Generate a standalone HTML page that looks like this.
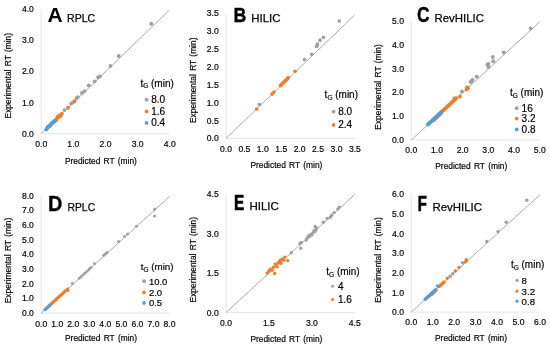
<!DOCTYPE html>
<html lang="en"><head><meta charset="utf-8"><title>Predicted vs experimental RT</title>
<style>html,body{margin:0;padding:0;background:#fff;}body{width:550px;height:348px;overflow:hidden}svg{display:block;filter:blur(0.45px)}</style>
</head><body>
<svg width="550" height="348" viewBox="0 0 550 348" font-family="'Liberation Sans', Arial, sans-serif" fill="#000" stroke="#000" stroke-width="0.18">
<rect width="550" height="348" fill="#fff" stroke="none"/>
<g id="panelA">
<path d="M41.20 9.00V133.80H169.80" fill="none" stroke="#e4e4e4" stroke-width="1"/>
<line x1="41.20" y1="133.80" x2="169.40" y2="10.00" stroke="#858585" stroke-width="0.7"/>
<g font-size="8.6" text-anchor="end">
<text x="33.90" y="136.85">0.0</text>
<text x="33.90" y="105.65">1.0</text>
<text x="33.90" y="74.45">2.0</text>
<text x="33.90" y="43.25">3.0</text>
<text x="33.90" y="12.05">4.0</text>
</g>
<g font-size="8.6" text-anchor="middle">
<text x="41.20" y="146.95">0.0</text>
<text x="73.35" y="146.95">1.0</text>
<text x="105.50" y="146.95">2.0</text>
<text x="137.65" y="146.95">3.0</text>
<text x="169.80" y="146.95">4.0</text>
</g>
<text x="100.90" y="164.10" font-size="8.4" text-anchor="middle" word-spacing="1">Predicted RT (min)</text>
<text transform="translate(11.10 75.70) rotate(-90)" font-size="8.4" text-anchor="middle" word-spacing="1">Experimental RT (min)</text>
<text transform="translate(47.60 21.50) scale(1.0 1)" font-size="21" font-weight="bold" fill="#000" stroke="#000" stroke-width="0" stroke-linejoin="miter">A</text>
<text x="67.00" y="21.50" font-size="11.8" fill="#000" stroke="#000" stroke-width="0.25" textLength="28.2" lengthAdjust="spacingAndGlyphs">RPLC</text>
<g stroke="none">
<circle cx="64.50" cy="110.10" r="1.95" fill="#a0a0a0"/>
<circle cx="71.10" cy="103.60" r="1.95" fill="#a0a0a0"/>
<circle cx="72.80" cy="102.40" r="1.95" fill="#a0a0a0"/>
<circle cx="76.60" cy="98.30" r="1.95" fill="#a0a0a0"/>
<circle cx="77.80" cy="97.10" r="1.95" fill="#a0a0a0"/>
<circle cx="82.00" cy="93.00" r="1.95" fill="#a0a0a0"/>
<circle cx="84.50" cy="91.10" r="1.95" fill="#a0a0a0"/>
<circle cx="88.70" cy="85.40" r="1.95" fill="#a0a0a0"/>
<circle cx="94.65" cy="81.35" r="1.95" fill="#a0a0a0"/>
<circle cx="98.10" cy="77.30" r="1.95" fill="#a0a0a0"/>
<circle cx="100.00" cy="76.40" r="1.95" fill="#a0a0a0"/>
<circle cx="110.50" cy="66.00" r="1.95" fill="#a0a0a0"/>
<circle cx="118.75" cy="56.00" r="1.95" fill="#a0a0a0"/>
<circle cx="151.25" cy="23.75" r="1.95" fill="#a0a0a0"/>
<circle cx="55.99" cy="120.38" r="1.95" fill="#ed7d31"/>
<circle cx="56.95" cy="118.51" r="1.95" fill="#ed7d31"/>
<circle cx="57.92" cy="116.64" r="1.95" fill="#ed7d31"/>
<circle cx="58.88" cy="117.11" r="1.95" fill="#ed7d31"/>
<circle cx="59.85" cy="115.24" r="1.95" fill="#ed7d31"/>
<circle cx="60.81" cy="115.70" r="1.95" fill="#ed7d31"/>
<circle cx="61.78" cy="113.83" r="1.95" fill="#ed7d31"/>
<circle cx="68.00" cy="107.80" r="1.95" fill="#ed7d31"/>
<circle cx="74.70" cy="101.10" r="1.95" fill="#ed7d31"/>
<circle cx="46.18" cy="129.59" r="1.95" fill="#5b9bd5"/>
<circle cx="46.96" cy="128.21" r="1.95" fill="#5b9bd5"/>
<circle cx="47.73" cy="126.84" r="1.95" fill="#5b9bd5"/>
<circle cx="48.51" cy="127.02" r="1.95" fill="#5b9bd5"/>
<circle cx="49.28" cy="125.65" r="1.95" fill="#5b9bd5"/>
<circle cx="50.06" cy="125.83" r="1.95" fill="#5b9bd5"/>
<circle cx="50.83" cy="124.45" r="1.95" fill="#5b9bd5"/>
<circle cx="51.60" cy="123.08" r="1.95" fill="#5b9bd5"/>
<circle cx="52.38" cy="123.26" r="1.95" fill="#5b9bd5"/>
<circle cx="53.15" cy="121.89" r="1.95" fill="#5b9bd5"/>
<circle cx="53.93" cy="122.07" r="1.95" fill="#5b9bd5"/>
<circle cx="54.70" cy="120.70" r="1.95" fill="#5b9bd5"/>
</g>
<text x="140.40" y="86.70" font-size="10.0">t<tspan font-size="6.5" dy="1.6">G</tspan><tspan dy="-1.6"> (min)</tspan></text>
<circle cx="146.55" cy="99.70" r="1.85" fill="#a0a0a0" stroke="none"/>
<text x="151.20" y="103.10" font-size="10.0">8.0</text>
<circle cx="146.55" cy="111.45" r="1.85" fill="#ed7d31" stroke="none"/>
<text x="151.20" y="114.85" font-size="10.0">1.6</text>
<circle cx="146.55" cy="122.95" r="1.85" fill="#5b9bd5" stroke="none"/>
<text x="151.20" y="126.35" font-size="10.0">0.4</text>
</g>
<g id="panelB">
<path d="M226.00 13.15V138.40H354.90" fill="none" stroke="#e4e4e4" stroke-width="1"/>
<line x1="226.00" y1="138.40" x2="354.60" y2="15.10" stroke="#858585" stroke-width="0.7"/>
<g font-size="8.6" text-anchor="end">
<text x="218.70" y="141.45">0.0</text>
<text x="218.70" y="123.56">0.5</text>
<text x="218.70" y="105.66">1.0</text>
<text x="218.70" y="87.77">1.5</text>
<text x="218.70" y="69.88">2.0</text>
<text x="218.70" y="51.99">2.5</text>
<text x="218.70" y="34.09">3.0</text>
<text x="218.70" y="16.20">3.5</text>
</g>
<g font-size="8.6" text-anchor="middle">
<text x="226.00" y="151.55">0.0</text>
<text x="244.41" y="151.55">0.5</text>
<text x="262.83" y="151.55">1.0</text>
<text x="281.24" y="151.55">1.5</text>
<text x="299.66" y="151.55">2.0</text>
<text x="318.07" y="151.55">2.5</text>
<text x="336.49" y="151.55">3.0</text>
<text x="354.90" y="151.55">3.5</text>
</g>
<text x="286.40" y="168.00" font-size="8.4" text-anchor="middle" word-spacing="1">Predicted RT (min)</text>
<text transform="translate(195.90 80.30) rotate(-90)" font-size="8.4" text-anchor="middle" word-spacing="1">Experimental RT (min)</text>
<text transform="translate(233.40 21.60) scale(0.84 1)" font-size="21.1" font-weight="bold" fill="#000" stroke="#000" stroke-width="0.4" stroke-linejoin="miter">B</text>
<text x="251.20" y="21.60" font-size="11.8" fill="#000" stroke="#000" stroke-width="0.25" textLength="29.3" lengthAdjust="spacingAndGlyphs">HILIC</text>
<g stroke="none">
<circle cx="259.50" cy="104.50" r="1.85" fill="#a0a0a0"/>
<circle cx="304.50" cy="59.50" r="1.85" fill="#a0a0a0"/>
<circle cx="311.75" cy="54.25" r="1.85" fill="#a0a0a0"/>
<circle cx="316.50" cy="46.50" r="1.85" fill="#a0a0a0"/>
<circle cx="317.20" cy="45.00" r="1.85" fill="#a0a0a0"/>
<circle cx="317.60" cy="44.00" r="1.85" fill="#a0a0a0"/>
<circle cx="320.00" cy="40.20" r="1.85" fill="#a0a0a0"/>
<circle cx="323.40" cy="37.30" r="1.85" fill="#a0a0a0"/>
<circle cx="339.25" cy="21.00" r="1.85" fill="#a0a0a0"/>
<circle cx="287.60" cy="78.60" r="1.85" fill="#a0a0a0"/>
<circle cx="256.75" cy="109.00" r="1.85" fill="#ed7d31"/>
<circle cx="272.20" cy="93.90" r="1.85" fill="#ed7d31"/>
<circle cx="274.00" cy="92.10" r="1.85" fill="#ed7d31"/>
<circle cx="295.00" cy="71.25" r="1.85" fill="#ed7d31"/>
<circle cx="280.51" cy="85.72" r="1.85" fill="#ed7d31"/>
<circle cx="281.61" cy="84.36" r="1.85" fill="#ed7d31"/>
<circle cx="282.72" cy="83.00" r="1.85" fill="#ed7d31"/>
<circle cx="283.82" cy="82.36" r="1.85" fill="#ed7d31"/>
<circle cx="284.93" cy="81.00" r="1.85" fill="#ed7d31"/>
<circle cx="286.03" cy="80.36" r="1.85" fill="#ed7d31"/>
<circle cx="287.14" cy="79.00" r="1.85" fill="#ed7d31"/>
<circle cx="288.24" cy="77.64" r="1.85" fill="#ed7d31"/>
</g>
<text x="324.60" y="98.00" font-size="10.0">t<tspan font-size="6.5" dy="1.6">G</tspan><tspan dy="-1.6"> (min)</tspan></text>
<circle cx="333.55" cy="111.70" r="1.85" fill="#a0a0a0" stroke="none"/>
<text x="338.20" y="115.10" font-size="10.0">8.0</text>
<circle cx="333.55" cy="124.95" r="1.85" fill="#ed7d31" stroke="none"/>
<text x="338.20" y="128.35" font-size="10.0">2.4</text>
</g>
<g id="panelC">
<path d="M411.25 20.90V140.00H539.75" fill="none" stroke="#e4e4e4" stroke-width="1"/>
<line x1="411.25" y1="140.00" x2="539.80" y2="21.80" stroke="#858585" stroke-width="0.7"/>
<g font-size="8.6" text-anchor="end">
<text x="403.95" y="143.05">0.0</text>
<text x="403.95" y="119.23">1.0</text>
<text x="403.95" y="95.41">2.0</text>
<text x="403.95" y="71.59">3.0</text>
<text x="403.95" y="47.77">4.0</text>
<text x="403.95" y="23.95">5.0</text>
</g>
<g font-size="8.6" text-anchor="middle">
<text x="411.25" y="153.10">0.0</text>
<text x="436.95" y="153.10">1.0</text>
<text x="462.65" y="153.10">2.0</text>
<text x="488.35" y="153.10">3.0</text>
<text x="514.05" y="153.10">4.0</text>
<text x="539.75" y="153.10">5.0</text>
</g>
<text x="471.25" y="168.75" font-size="8.4" text-anchor="middle" word-spacing="1">Predicted RT (min)</text>
<text transform="translate(381.40 86.95) rotate(-90)" font-size="8.4" text-anchor="middle" word-spacing="1">Experimental RT (min)</text>
<text transform="translate(417.10 21.90) scale(0.8 1)" font-size="21.8" font-weight="bold" fill="#000" stroke="#000" stroke-width="0.4" stroke-linejoin="miter">C</text>
<text x="434.50" y="21.90" font-size="11.8" fill="#000" stroke="#000" stroke-width="0.25" textLength="49.5" lengthAdjust="spacingAndGlyphs">RevHILIC</text>
<g stroke="none">
<circle cx="530.60" cy="28.40" r="1.95" fill="#a0a0a0"/>
<circle cx="503.75" cy="52.50" r="1.95" fill="#a0a0a0"/>
<circle cx="492.75" cy="57.00" r="1.95" fill="#a0a0a0"/>
<circle cx="493.25" cy="61.25" r="1.95" fill="#a0a0a0"/>
<circle cx="487.50" cy="64.50" r="1.95" fill="#a0a0a0"/>
<circle cx="488.50" cy="64.00" r="1.95" fill="#a0a0a0"/>
<circle cx="488.25" cy="67.00" r="1.95" fill="#a0a0a0"/>
<circle cx="476.75" cy="76.75" r="1.95" fill="#a0a0a0"/>
<circle cx="472.50" cy="80.00" r="1.95" fill="#a0a0a0"/>
<circle cx="471.50" cy="81.00" r="1.95" fill="#a0a0a0"/>
<circle cx="470.50" cy="82.00" r="1.95" fill="#a0a0a0"/>
<circle cx="454.25" cy="98.25" r="1.95" fill="#a0a0a0"/>
<circle cx="462.00" cy="91.50" r="1.95" fill="#a0a0a0"/>
<circle cx="433.48" cy="120.23" r="1.95" fill="#ed7d31"/>
<circle cx="434.58" cy="119.21" r="1.95" fill="#ed7d31"/>
<circle cx="435.68" cy="118.19" r="1.95" fill="#ed7d31"/>
<circle cx="436.78" cy="117.17" r="1.95" fill="#ed7d31"/>
<circle cx="437.89" cy="116.15" r="1.95" fill="#ed7d31"/>
<circle cx="438.99" cy="115.13" r="1.95" fill="#ed7d31"/>
<circle cx="440.09" cy="114.10" r="1.95" fill="#ed7d31"/>
<circle cx="441.19" cy="113.08" r="1.95" fill="#ed7d31"/>
<circle cx="441.32" cy="112.13" r="1.95" fill="#ed7d31"/>
<circle cx="442.47" cy="111.07" r="1.95" fill="#ed7d31"/>
<circle cx="443.61" cy="110.01" r="1.95" fill="#ed7d31"/>
<circle cx="444.76" cy="108.94" r="1.95" fill="#ed7d31"/>
<circle cx="445.91" cy="107.88" r="1.95" fill="#ed7d31"/>
<circle cx="447.05" cy="106.82" r="1.95" fill="#ed7d31"/>
<circle cx="448.20" cy="105.75" r="1.95" fill="#ed7d31"/>
<circle cx="449.35" cy="104.69" r="1.95" fill="#ed7d31"/>
<circle cx="450.49" cy="103.63" r="1.95" fill="#ed7d31"/>
<circle cx="451.64" cy="102.57" r="1.95" fill="#ed7d31"/>
<circle cx="452.79" cy="101.50" r="1.95" fill="#ed7d31"/>
<circle cx="453.93" cy="100.44" r="1.95" fill="#ed7d31"/>
<circle cx="455.08" cy="99.38" r="1.95" fill="#ed7d31"/>
<circle cx="456.23" cy="98.31" r="1.95" fill="#ed7d31"/>
<circle cx="460.00" cy="96.50" r="1.95" fill="#ed7d31"/>
<circle cx="466.50" cy="89.50" r="1.95" fill="#ed7d31"/>
<circle cx="468.00" cy="88.25" r="1.95" fill="#ed7d31"/>
<circle cx="467.00" cy="87.50" r="1.95" fill="#ed7d31"/>
<circle cx="427.95" cy="124.52" r="1.95" fill="#5b9bd5"/>
<circle cx="428.74" cy="123.79" r="1.95" fill="#5b9bd5"/>
<circle cx="429.53" cy="123.06" r="1.95" fill="#5b9bd5"/>
<circle cx="430.31" cy="122.33" r="1.95" fill="#5b9bd5"/>
<circle cx="431.10" cy="121.60" r="1.95" fill="#5b9bd5"/>
<circle cx="431.89" cy="120.87" r="1.95" fill="#5b9bd5"/>
<circle cx="432.67" cy="120.15" r="1.95" fill="#5b9bd5"/>
<circle cx="433.46" cy="119.42" r="1.95" fill="#5b9bd5"/>
<circle cx="434.24" cy="118.69" r="1.95" fill="#5b9bd5"/>
<circle cx="435.03" cy="117.96" r="1.95" fill="#5b9bd5"/>
<circle cx="435.82" cy="117.23" r="1.95" fill="#5b9bd5"/>
<circle cx="436.60" cy="116.50" r="1.95" fill="#5b9bd5"/>
<circle cx="437.39" cy="115.77" r="1.95" fill="#5b9bd5"/>
<circle cx="438.17" cy="115.05" r="1.95" fill="#5b9bd5"/>
<circle cx="438.96" cy="114.32" r="1.95" fill="#5b9bd5"/>
<circle cx="439.75" cy="113.59" r="1.95" fill="#5b9bd5"/>
<circle cx="440.53" cy="112.86" r="1.95" fill="#5b9bd5"/>
<circle cx="441.32" cy="112.13" r="1.95" fill="#5b9bd5"/>
</g>
<text x="510.00" y="96.00" font-size="10.0">t<tspan font-size="6.5" dy="1.6">G</tspan><tspan dy="-1.6"> (min)</tspan></text>
<circle cx="516.70" cy="108.20" r="1.85" fill="#a0a0a0" stroke="none"/>
<text x="521.60" y="111.60" font-size="10.0">16</text>
<circle cx="516.70" cy="118.60" r="1.85" fill="#ed7d31" stroke="none"/>
<text x="521.60" y="122.00" font-size="10.0">3.2</text>
<circle cx="516.70" cy="129.40" r="1.85" fill="#5b9bd5" stroke="none"/>
<text x="521.60" y="132.80" font-size="10.0">0.8</text>
</g>
<g id="panelD">
<path d="M41.20 195.70V313.10H169.50" fill="none" stroke="#e4e4e4" stroke-width="1"/>
<line x1="41.20" y1="313.10" x2="169.70" y2="196.30" stroke="#858585" stroke-width="0.7"/>
<g font-size="8.6" text-anchor="end">
<text x="33.90" y="316.15">0.0</text>
<text x="33.90" y="301.48">1.0</text>
<text x="33.90" y="286.80">2.0</text>
<text x="33.90" y="272.12">3.0</text>
<text x="33.90" y="257.45">4.0</text>
<text x="33.90" y="242.78">5.0</text>
<text x="33.90" y="228.10">6.0</text>
<text x="33.90" y="213.43">7.0</text>
<text x="33.90" y="198.75">8.0</text>
</g>
<g font-size="8.6" text-anchor="middle">
<text x="41.20" y="326.75">0.0</text>
<text x="57.24" y="326.75">1.0</text>
<text x="73.28" y="326.75">2.0</text>
<text x="89.31" y="326.75">3.0</text>
<text x="105.35" y="326.75">4.0</text>
<text x="121.39" y="326.75">5.0</text>
<text x="137.43" y="326.75">6.0</text>
<text x="153.46" y="326.75">7.0</text>
<text x="169.50" y="326.75">8.0</text>
</g>
<text x="101.00" y="341.30" font-size="8.4" text-anchor="middle" word-spacing="1">Predicted RT (min)</text>
<text transform="translate(11.00 260.50) rotate(-90)" font-size="8.4" text-anchor="middle" word-spacing="1">Experimental RT (min)</text>
<text transform="translate(48.10 211.10) scale(0.935 1)" font-size="21.3" font-weight="bold" fill="#000" stroke="#000" stroke-width="0.3" stroke-linejoin="miter">D</text>
<text x="67.50" y="211.10" font-size="11.8" fill="#000" stroke="#000" stroke-width="0.25" textLength="27.6" lengthAdjust="spacingAndGlyphs">RPLC</text>
<g stroke="none">
<circle cx="154.60" cy="209.40" r="1.55" fill="#a0a0a0"/>
<circle cx="154.60" cy="216.00" r="1.55" fill="#a0a0a0"/>
<circle cx="136.50" cy="226.25" r="1.55" fill="#a0a0a0"/>
<circle cx="127.50" cy="234.00" r="1.55" fill="#a0a0a0"/>
<circle cx="124.50" cy="236.50" r="1.55" fill="#a0a0a0"/>
<circle cx="118.75" cy="241.50" r="1.55" fill="#a0a0a0"/>
<circle cx="107.00" cy="252.50" r="1.55" fill="#a0a0a0"/>
<circle cx="105.50" cy="253.80" r="1.55" fill="#a0a0a0"/>
<circle cx="103.75" cy="255.25" r="1.55" fill="#a0a0a0"/>
<circle cx="94.50" cy="263.50" r="1.55" fill="#a0a0a0"/>
<circle cx="72.50" cy="283.50" r="1.55" fill="#a0a0a0"/>
<circle cx="79.21" cy="278.32" r="1.55" fill="#a0a0a0"/>
<circle cx="81.16" cy="276.53" r="1.55" fill="#a0a0a0"/>
<circle cx="83.11" cy="274.75" r="1.55" fill="#a0a0a0"/>
<circle cx="85.06" cy="272.96" r="1.55" fill="#a0a0a0"/>
<circle cx="87.01" cy="271.18" r="1.55" fill="#a0a0a0"/>
<circle cx="88.97" cy="269.39" r="1.55" fill="#a0a0a0"/>
<circle cx="90.92" cy="267.61" r="1.55" fill="#a0a0a0"/>
<circle cx="50.18" cy="304.88" r="1.55" fill="#ed7d31"/>
<circle cx="50.78" cy="304.33" r="1.55" fill="#ed7d31"/>
<circle cx="51.39" cy="303.78" r="1.55" fill="#ed7d31"/>
<circle cx="51.99" cy="303.23" r="1.55" fill="#ed7d31"/>
<circle cx="52.59" cy="302.67" r="1.55" fill="#ed7d31"/>
<circle cx="53.20" cy="302.12" r="1.55" fill="#ed7d31"/>
<circle cx="53.80" cy="301.57" r="1.55" fill="#ed7d31"/>
<circle cx="54.40" cy="301.02" r="1.55" fill="#ed7d31"/>
<circle cx="55.01" cy="300.47" r="1.55" fill="#ed7d31"/>
<circle cx="55.61" cy="299.92" r="1.55" fill="#ed7d31"/>
<circle cx="56.21" cy="299.36" r="1.55" fill="#ed7d31"/>
<circle cx="56.81" cy="298.81" r="1.55" fill="#ed7d31"/>
<circle cx="57.42" cy="298.26" r="1.55" fill="#ed7d31"/>
<circle cx="58.02" cy="297.71" r="1.55" fill="#ed7d31"/>
<circle cx="58.62" cy="297.16" r="1.55" fill="#ed7d31"/>
<circle cx="59.23" cy="296.61" r="1.55" fill="#ed7d31"/>
<circle cx="59.83" cy="296.05" r="1.55" fill="#ed7d31"/>
<circle cx="60.43" cy="295.50" r="1.55" fill="#ed7d31"/>
<circle cx="61.04" cy="294.95" r="1.55" fill="#ed7d31"/>
<circle cx="61.64" cy="294.40" r="1.55" fill="#ed7d31"/>
<circle cx="62.24" cy="293.85" r="1.55" fill="#ed7d31"/>
<circle cx="62.84" cy="293.29" r="1.55" fill="#ed7d31"/>
<circle cx="63.45" cy="292.74" r="1.55" fill="#ed7d31"/>
<circle cx="64.05" cy="292.19" r="1.55" fill="#ed7d31"/>
<circle cx="64.65" cy="291.64" r="1.55" fill="#ed7d31"/>
<circle cx="65.26" cy="291.09" r="1.55" fill="#ed7d31"/>
<circle cx="67.70" cy="288.90" r="1.55" fill="#ed7d31"/>
<circle cx="68.00" cy="290.40" r="1.55" fill="#ed7d31"/>
<circle cx="66.60" cy="290.00" r="1.55" fill="#ed7d31"/>
<circle cx="44.89" cy="309.72" r="1.55" fill="#5b9bd5"/>
<circle cx="45.42" cy="309.24" r="1.55" fill="#5b9bd5"/>
<circle cx="45.96" cy="308.75" r="1.55" fill="#5b9bd5"/>
<circle cx="46.49" cy="308.26" r="1.55" fill="#5b9bd5"/>
<circle cx="47.03" cy="307.77" r="1.55" fill="#5b9bd5"/>
<circle cx="47.56" cy="307.28" r="1.55" fill="#5b9bd5"/>
<circle cx="48.10" cy="306.79" r="1.55" fill="#5b9bd5"/>
<circle cx="48.63" cy="306.30" r="1.55" fill="#5b9bd5"/>
<circle cx="49.17" cy="305.81" r="1.55" fill="#5b9bd5"/>
<circle cx="49.70" cy="305.32" r="1.55" fill="#5b9bd5"/>
</g>
<text x="140.75" y="270.00" font-size="9.8">t<tspan font-size="6.5" dy="1.6">G</tspan><tspan dy="-1.6"> (min)</tspan></text>
<circle cx="144.05" cy="281.20" r="1.85" fill="#a0a0a0" stroke="none"/>
<text x="148.90" y="284.60" font-size="9.5">10.0</text>
<circle cx="144.05" cy="292.45" r="1.85" fill="#ed7d31" stroke="none"/>
<text x="148.90" y="295.85" font-size="9.5">2.0</text>
<circle cx="144.05" cy="302.95" r="1.85" fill="#5b9bd5" stroke="none"/>
<text x="148.90" y="306.35" font-size="9.5">0.5</text>
</g>
<g id="panelE">
<path d="M226.00 194.40V312.50H354.80" fill="none" stroke="#e4e4e4" stroke-width="1"/>
<line x1="226.00" y1="312.50" x2="354.80" y2="194.40" stroke="#858585" stroke-width="0.7"/>
<g font-size="8.6" text-anchor="end">
<text x="218.70" y="315.55">0.0</text>
<text x="218.70" y="276.18">1.5</text>
<text x="218.70" y="236.82">3.0</text>
<text x="218.70" y="197.45">4.5</text>
</g>
<g font-size="8.6" text-anchor="middle">
<text x="226.00" y="325.95">0.0</text>
<text x="268.93" y="325.95">1.5</text>
<text x="311.87" y="325.95">3.0</text>
<text x="354.80" y="325.95">4.5</text>
</g>
<text x="286.40" y="341.50" font-size="8.4" text-anchor="middle" word-spacing="1">Predicted RT (min)</text>
<text transform="translate(196.25 259.70) rotate(-90)" font-size="8.4" text-anchor="middle" word-spacing="1">Experimental RT (min)</text>
<text transform="translate(233.90 210.40) scale(0.72 1)" font-size="21.3" font-weight="bold" fill="#000" stroke="#000" stroke-width="0.7" stroke-linejoin="miter">E</text>
<text x="249.50" y="210.40" font-size="11.8" fill="#000" stroke="#000" stroke-width="0.25" textLength="29.3" lengthAdjust="spacingAndGlyphs">HILIC</text>
<g stroke="none">
<circle cx="339.40" cy="207.10" r="1.7" fill="#a0a0a0"/>
<circle cx="337.90" cy="209.00" r="1.7" fill="#a0a0a0"/>
<circle cx="334.10" cy="212.60" r="1.7" fill="#a0a0a0"/>
<circle cx="331.60" cy="215.30" r="1.7" fill="#a0a0a0"/>
<circle cx="330.30" cy="217.20" r="1.7" fill="#a0a0a0"/>
<circle cx="327.20" cy="218.50" r="1.7" fill="#a0a0a0"/>
<circle cx="323.40" cy="222.30" r="1.7" fill="#a0a0a0"/>
<circle cx="315.20" cy="226.50" r="1.7" fill="#a0a0a0"/>
<circle cx="316.40" cy="228.00" r="1.7" fill="#a0a0a0"/>
<circle cx="301.25" cy="242.50" r="1.7" fill="#a0a0a0"/>
<circle cx="300.00" cy="243.75" r="1.7" fill="#a0a0a0"/>
<circle cx="300.75" cy="248.25" r="1.7" fill="#a0a0a0"/>
<circle cx="291.25" cy="252.75" r="1.7" fill="#a0a0a0"/>
<circle cx="306.14" cy="240.07" r="1.7" fill="#a0a0a0"/>
<circle cx="307.26" cy="237.99" r="1.7" fill="#a0a0a0"/>
<circle cx="308.37" cy="235.92" r="1.7" fill="#a0a0a0"/>
<circle cx="309.48" cy="236.48" r="1.7" fill="#a0a0a0"/>
<circle cx="310.59" cy="234.41" r="1.7" fill="#a0a0a0"/>
<circle cx="311.71" cy="234.96" r="1.7" fill="#a0a0a0"/>
<circle cx="312.82" cy="232.89" r="1.7" fill="#a0a0a0"/>
<circle cx="313.93" cy="230.82" r="1.7" fill="#a0a0a0"/>
<circle cx="315.05" cy="231.38" r="1.7" fill="#a0a0a0"/>
<circle cx="316.16" cy="229.31" r="1.7" fill="#a0a0a0"/>
<circle cx="270.20" cy="269.30" r="1.7" fill="#ed7d31"/>
<circle cx="275.30" cy="264.00" r="1.7" fill="#ed7d31"/>
<circle cx="280.30" cy="260.20" r="1.7" fill="#ed7d31"/>
<circle cx="284.80" cy="257.10" r="1.7" fill="#ed7d31"/>
<circle cx="267.10" cy="273.10" r="1.7" fill="#ed7d31"/>
<circle cx="272.10" cy="270.30" r="1.7" fill="#ed7d31"/>
<circle cx="277.20" cy="266.80" r="1.7" fill="#ed7d31"/>
<circle cx="281.00" cy="263.40" r="1.7" fill="#ed7d31"/>
<circle cx="283.90" cy="260.20" r="1.7" fill="#ed7d31"/>
<circle cx="273.40" cy="267.20" r="1.7" fill="#ed7d31"/>
<circle cx="278.40" cy="262.80" r="1.7" fill="#ed7d31"/>
<circle cx="282.20" cy="259.00" r="1.7" fill="#ed7d31"/>
<circle cx="274.65" cy="273.50" r="1.7" fill="#ed7d31"/>
<circle cx="287.70" cy="260.60" r="1.7" fill="#ed7d31"/>
<circle cx="268.80" cy="271.20" r="1.7" fill="#ed7d31"/>
<circle cx="276.30" cy="265.50" r="1.7" fill="#ed7d31"/>
<circle cx="279.50" cy="261.80" r="1.7" fill="#ed7d31"/>
</g>
<text x="326.30" y="275.00" font-size="10.0">t<tspan font-size="6.5" dy="1.6">G</tspan><tspan dy="-1.6"> (min)</tspan></text>
<circle cx="332.60" cy="286.20" r="1.55" fill="#a0a0a0" stroke="none"/>
<text x="338.00" y="289.60" font-size="10.0">4</text>
<circle cx="332.60" cy="299.45" r="1.55" fill="#ed7d31" stroke="none"/>
<text x="338.00" y="302.85" font-size="10.0">1.6</text>
</g>
<g id="panelF">
<path d="M411.25 194.30V312.10H540.00" fill="none" stroke="#e4e4e4" stroke-width="1"/>
<line x1="411.25" y1="312.10" x2="540.00" y2="194.70" stroke="#858585" stroke-width="0.7"/>
<g font-size="8.6" text-anchor="end">
<text x="403.95" y="315.15">0.0</text>
<text x="403.95" y="295.52">1.0</text>
<text x="403.95" y="275.88">2.0</text>
<text x="403.95" y="256.25">3.0</text>
<text x="403.95" y="236.62">4.0</text>
<text x="403.95" y="216.98">5.0</text>
<text x="403.95" y="197.35">6.0</text>
</g>
<g font-size="8.6" text-anchor="middle">
<text x="411.25" y="325.15">0.0</text>
<text x="432.71" y="325.15">1.0</text>
<text x="454.17" y="325.15">2.0</text>
<text x="475.62" y="325.15">3.0</text>
<text x="497.08" y="325.15">4.0</text>
<text x="518.54" y="325.15">5.0</text>
<text x="540.00" y="325.15">6.0</text>
</g>
<text x="471.00" y="340.75" font-size="8.4" text-anchor="middle" word-spacing="1">Predicted RT (min)</text>
<text transform="translate(380.90 260.00) rotate(-90)" font-size="8.4" text-anchor="middle" word-spacing="1">Experimental RT (min)</text>
<text transform="translate(417.80 210.90) scale(0.7 1)" font-size="21.2" font-weight="bold" fill="#000" stroke="#000" stroke-width="0.7" stroke-linejoin="miter">F</text>
<text x="432.50" y="210.90" font-size="11.8" fill="#000" stroke="#000" stroke-width="0.25" textLength="49.5" lengthAdjust="spacingAndGlyphs">RevHILIC</text>
<g stroke="none">
<circle cx="526.75" cy="200.25" r="1.75" fill="#a0a0a0"/>
<circle cx="506.25" cy="222.25" r="1.75" fill="#a0a0a0"/>
<circle cx="498.00" cy="231.50" r="1.75" fill="#a0a0a0"/>
<circle cx="486.75" cy="241.50" r="1.75" fill="#a0a0a0"/>
<circle cx="466.30" cy="259.50" r="1.75" fill="#a0a0a0"/>
<circle cx="462.50" cy="262.80" r="1.75" fill="#a0a0a0"/>
<circle cx="452.70" cy="273.80" r="1.75" fill="#a0a0a0"/>
<circle cx="450.20" cy="276.30" r="1.75" fill="#a0a0a0"/>
<circle cx="430.99" cy="294.82" r="1.75" fill="#ed7d31"/>
<circle cx="432.02" cy="293.88" r="1.75" fill="#ed7d31"/>
<circle cx="433.05" cy="292.94" r="1.75" fill="#ed7d31"/>
<circle cx="434.08" cy="292.00" r="1.75" fill="#ed7d31"/>
<circle cx="435.11" cy="291.05" r="1.75" fill="#ed7d31"/>
<circle cx="436.14" cy="290.11" r="1.75" fill="#ed7d31"/>
<circle cx="439.15" cy="286.58" r="1.75" fill="#ed7d31"/>
<circle cx="440.13" cy="285.67" r="1.75" fill="#ed7d31"/>
<circle cx="441.12" cy="284.77" r="1.75" fill="#ed7d31"/>
<circle cx="442.11" cy="283.87" r="1.75" fill="#ed7d31"/>
<circle cx="443.09" cy="282.96" r="1.75" fill="#ed7d31"/>
<circle cx="444.08" cy="282.06" r="1.75" fill="#ed7d31"/>
<circle cx="447.30" cy="278.20" r="1.75" fill="#ed7d31"/>
<circle cx="455.30" cy="271.00" r="1.75" fill="#ed7d31"/>
<circle cx="459.00" cy="267.50" r="1.75" fill="#ed7d31"/>
<circle cx="465.60" cy="261.80" r="1.75" fill="#ed7d31"/>
<circle cx="466.30" cy="260.90" r="1.75" fill="#ed7d31"/>
<circle cx="425.20" cy="299.34" r="1.75" fill="#5b9bd5"/>
<circle cx="425.92" cy="298.68" r="1.75" fill="#5b9bd5"/>
<circle cx="426.64" cy="298.02" r="1.75" fill="#5b9bd5"/>
<circle cx="427.36" cy="297.36" r="1.75" fill="#5b9bd5"/>
<circle cx="428.08" cy="296.70" r="1.75" fill="#5b9bd5"/>
<circle cx="428.80" cy="296.04" r="1.75" fill="#5b9bd5"/>
<circle cx="429.52" cy="295.38" r="1.75" fill="#5b9bd5"/>
<circle cx="430.24" cy="294.72" r="1.75" fill="#5b9bd5"/>
<circle cx="430.96" cy="294.07" r="1.75" fill="#5b9bd5"/>
<circle cx="431.68" cy="293.41" r="1.75" fill="#5b9bd5"/>
<circle cx="432.40" cy="292.75" r="1.75" fill="#5b9bd5"/>
<circle cx="433.12" cy="292.09" r="1.75" fill="#5b9bd5"/>
<circle cx="433.84" cy="291.43" r="1.75" fill="#5b9bd5"/>
<circle cx="434.56" cy="290.77" r="1.75" fill="#5b9bd5"/>
<circle cx="435.28" cy="290.11" r="1.75" fill="#5b9bd5"/>
<circle cx="437.60" cy="286.10" r="1.75" fill="#5b9bd5"/>
</g>
<text x="510.90" y="268.40" font-size="10.0">t<tspan font-size="6.5" dy="1.6">G</tspan><tspan dy="-1.6"> (min)</tspan></text>
<circle cx="517.05" cy="280.40" r="1.6" fill="#a0a0a0" stroke="none"/>
<text x="521.60" y="283.80" font-size="9.7">8</text>
<circle cx="517.05" cy="291.20" r="1.6" fill="#ed7d31" stroke="none"/>
<text x="521.60" y="294.60" font-size="9.7">3.2</text>
<circle cx="517.05" cy="301.20" r="1.6" fill="#5b9bd5" stroke="none"/>
<text x="521.60" y="304.60" font-size="9.7">0.8</text>
</g>
</svg>
</body></html>
